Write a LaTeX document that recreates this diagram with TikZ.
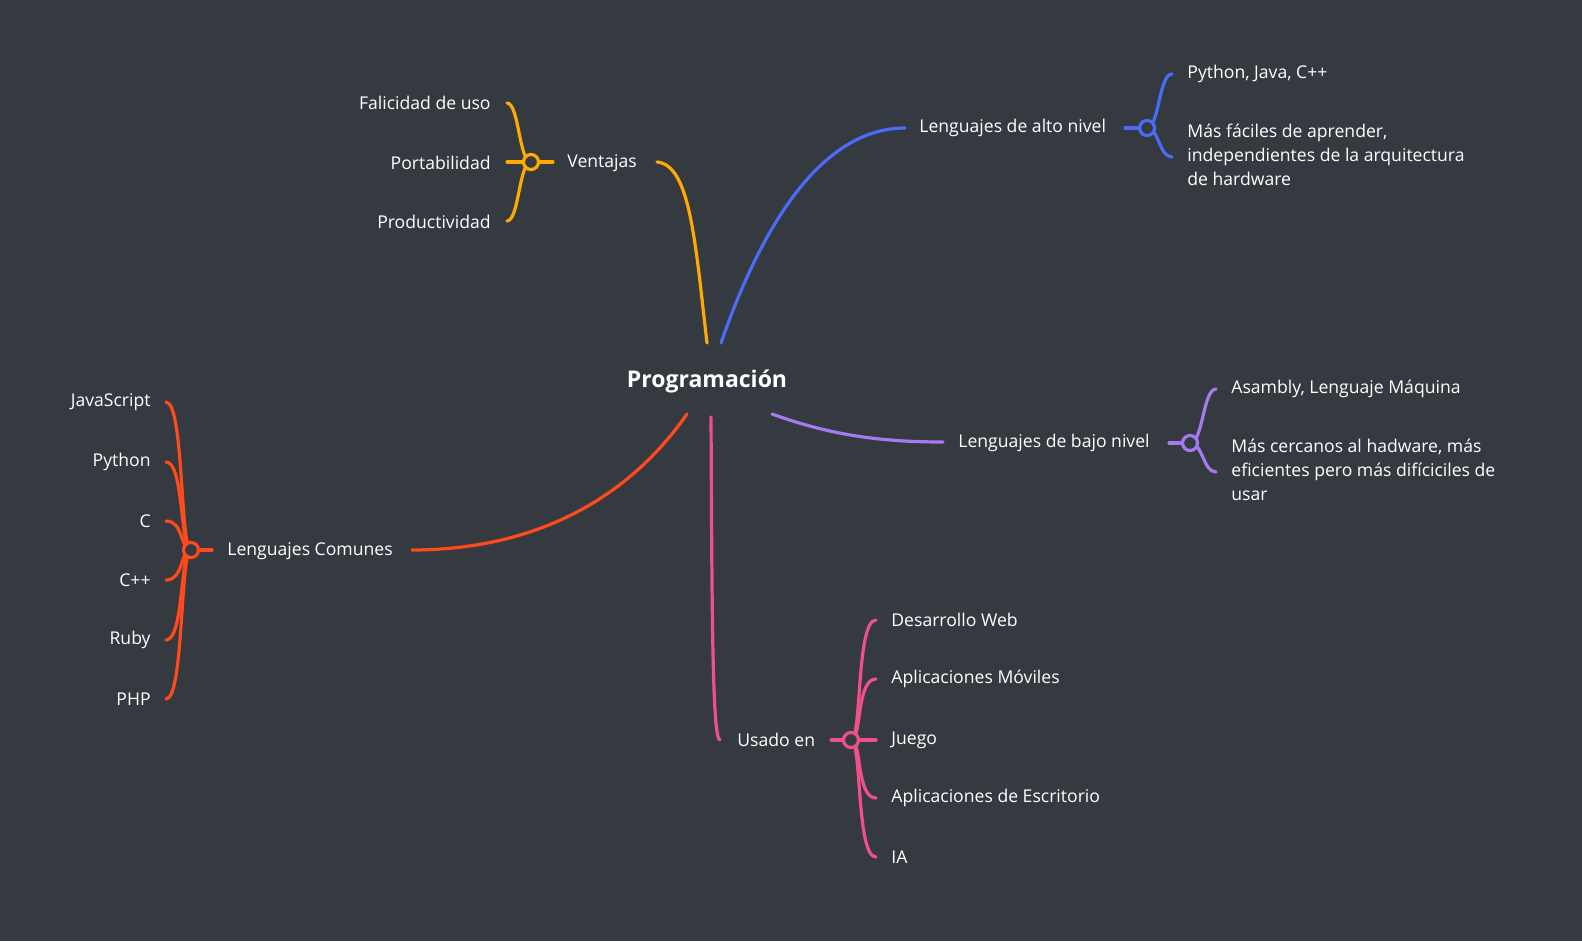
\documentclass[tikz,border=0pt]{standalone}
\usepackage{fontspec}
\setmainfont{Open Sans}
\definecolor{bg}{HTML}{343A40}
\definecolor{cor}{HTML}{FFAA00}
\definecolor{cbl}{HTML}{4A6CF7}
\definecolor{cpu}{HTML}{A57AF0}
\definecolor{cre}{HTML}{FF4A1C}
\definecolor{cpk}{HTML}{F0508A}
\begin{document}
\begin{tikzpicture}[x=0.5pt,y=-0.5pt,
  txt/.style={text=white,font=\fontsize{8.8}{12}\selectfont,inner sep=0pt},
  ttl/.style={text=white,font=\fontsize{11.5}{14}\selectfont\bfseries,inner sep=0pt},
  ln/.style={line width=1.6pt,line cap=round},
  jn/.style={circle,draw,line width=1.6pt,minimum size=7.5pt,inner sep=0pt,fill=bg}]
\fill[bg] (0,0) rectangle (1582,941);
\useasboundingbox (0,0) rectangle (1582,941);
\node[ttl] (root) at (707,381) {Programación};
% Ventajas
\node[txt,anchor=west] (ven) at (567,163) {Ventajas};
\draw[ln,cor] (707,343) .. controls (695,240) and (690,165) .. (657,162);
\coordinate (vj) at (531,162);
\node[txt,anchor=east] (v1) at (491,103) {Falicidad de uso};
\node[txt,anchor=east] (v2) at (491,163) {Portabilidad};
\node[txt,anchor=east] (v3) at (491,222) {Productividad};
\draw[ln,cor] (553,162) -- (vj);
\foreach \y in {103,162,221} \draw[ln,cor] (vj) .. controls (519,162) and (519,\y) .. (507,\y);
\node[jn,draw=cor] (vjn) at (vj) {};
% Alto nivel
\node[txt,anchor=west] (alt) at (919,128) {Lenguajes de alto nivel};
\draw[ln,cbl] (721,343) .. controls (760,230) and (820,128) .. (905,128);
\coordinate (aj) at (1147,128);
\draw[ln,cbl] (1125,128) -- (aj);
\node[txt,anchor=west] (a1) at (1187,74) {Python, Java, C++};
\node[txt,anchor=north west,align=left] (a2) at (1187,124) {Más fáciles de aprender,\\independientes de la arquitectura\\de hardware};
\foreach \y in {74,157} \draw[ln,cbl] (aj) .. controls (1159,128) and (1159,\y) .. (1172,\y);
\node[jn,draw=cbl] (ajn) at (aj) {};
% Bajo nivel
\node[txt,anchor=west] (baj) at (958,443) {Lenguajes de bajo nivel};
\draw[ln,cpu] (772,414) .. controls (830,435) and (880,442) .. (943,442);
\coordinate (bj) at (1190,443);
\draw[ln,cpu] (1169,443) -- (bj);
\node[txt,anchor=west] (b1) at (1231,389) {Asambly, Lenguaje Máquina};
\node[txt,anchor=north west,align=left] (b2) at (1231,439) {Más cercanos al hadware, más\\eficientes pero más difíciciles de\\usar};
\foreach \y in {389,472} \draw[ln,cpu] (bj) .. controls (1203,443) and (1203,\y) .. (1216,\y);
\node[jn,draw=cpu] (bjn) at (bj) {};
% Comunes
\node[txt,anchor=west] (com) at (227,551) {Lenguajes Comunes};
\draw[ln,cre] (687,414) .. controls (620,510) and (520,550) .. (412,550);
\coordinate (cj) at (191,550);
\draw[ln,cre] (212,550) -- (cj);
\foreach \t/\y in {JavaScript/402,Python/462,C/521,C++/580,Ruby/640,PHP/699}
  \node[txt,anchor=east] (c\y) at (151,\y) {\t};
\foreach \y in {402,462,521,580,640,699} \draw[ln,cre] (cj) .. controls (180,550) and (184,\y) .. (166,\y);
\node[jn,draw=cre] (cjn) at (cj) {};
% Usado en
\node[txt,anchor=west] (usa) at (737,740) {Usado en};
\draw[ln,cpk] (711,417) .. controls (712,600) and (712,740) .. (720,740);
\coordinate (uj) at (851,740);
\draw[ln,cpk] (831,740) -- (uj);
\foreach \t/\y in {Desarrollo Web/620,Aplicaciones Móviles/679,Juego/740,Aplicaciones de Escritorio/798,IA/857}
  \node[txt,anchor=west] (u\y) at (891,\y) {\t};
\foreach \y in {620,679,740,798,857} \draw[ln,cpk] (uj) .. controls (862,740) and (856,\y) .. (876,\y);
\node[jn,draw=cpk] (ujn) at (uj) {};
\end{tikzpicture}
\end{document}
